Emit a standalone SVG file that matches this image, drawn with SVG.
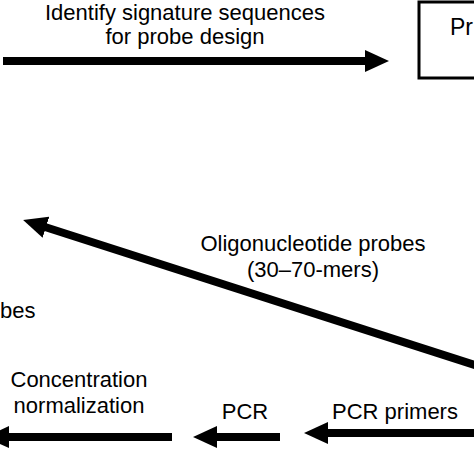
<svg xmlns="http://www.w3.org/2000/svg" width="474" height="474" viewBox="0 0 474 474">
<style>
text{font-family:"Liberation Sans",Arial,sans-serif;font-size:22px;fill:#000}
.c{stroke:#000;stroke-width:8;fill:none;marker-end:url(#ah)}
</style>
<defs>
<marker id="ah" markerUnits="userSpaceOnUse" markerWidth="26" markerHeight="24" viewBox="0 0 26 24" refX="1" refY="12" orient="auto">
<path d="M0,1 L24,12 L0,23 Z" fill="#000"/>
</marker>
</defs>
<rect width="474" height="474" fill="#fff"/>
<g id="node-probe">
<rect x="419" y="2" width="70" height="76" fill="#fff" stroke="#000" stroke-width="3"/>
<text x="450" y="35" style="font-size:23px">Pr</text>
</g>
<g id="node-bes">
<text x="0" y="318">bes</text>
</g>
<g id="connectors">
<line class="c" x1="3" y1="61" x2="366" y2="61"/>
<line class="c" x1="481" y1="367" x2="45" y2="227"/>
<line class="c" x1="172" y1="437" x2="8" y2="437"/>
<line class="c" x1="280" y1="437" x2="216" y2="437"/>
<line class="c" x1="480" y1="433" x2="327" y2="433"/>
</g>
<g id="labels" text-anchor="middle">
<text x="185" y="19.5">Identify signature sequences</text>
<text x="185" y="44">for probe design</text>
<text x="313" y="251">Oligonucleotide probes</text>
<text x="313" y="277">(30–70-mers)</text>
<text x="79" y="387">Concentration</text>
<text x="79" y="413">normalization</text>
<text x="245" y="419">PCR</text>
<text x="395" y="419">PCR primers</text>
</g>
</svg>
